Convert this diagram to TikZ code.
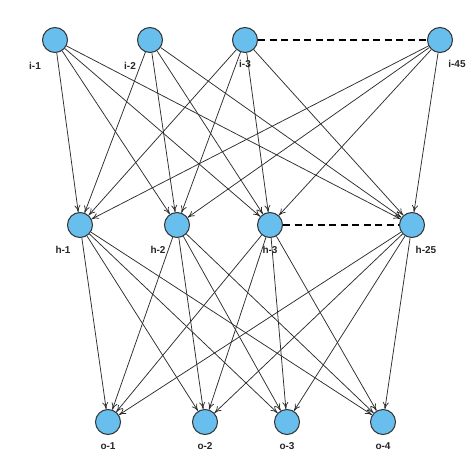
\documentclass[tikz,border=0pt]{standalone}
\usepackage{fontspec}
\setmainfont{Liberation Sans}
\usetikzlibrary{arrows.meta}
\definecolor{nodeblue}{RGB}{104,190,236}
\definecolor{edgegray}{RGB}{45,45,45}
\tikzset{
  neuron/.style={circle,draw=black!80,line width=1pt,fill=nodeblue,minimum size=25pt,inner sep=0pt},
  lbl/.style={font=\fontsize{10}{11}\selectfont\bfseries,inner sep=0pt,text=black!85},
  conn/.style={draw=edgegray,line width=0.75pt,-{To[length=7pt,width=6pt]}},
  gap/.style={draw=black,line width=2.6pt,dash pattern=on 7pt off 4.5pt}
}
\begin{document}
\begin{tikzpicture}[x=1pt,y=-1pt]
\useasboundingbox (0,0) rectangle (474,468);
% input layer
\node[neuron] (i1) at (55,40) {};
\node[neuron] (i2) at (150,40) {};
\node[neuron] (i3) at (245,40) {};
\node[neuron] (i45) at (440,40) {};
% hidden layer
\node[neuron] (h1) at (80,225) {};
\node[neuron] (h2) at (177,225) {};
\node[neuron] (h3) at (270,225) {};
\node[neuron] (h25) at (412,225) {};
% output layer
\node[neuron] (o1) at (108,422) {};
\node[neuron] (o2) at (205,422) {};
\node[neuron] (o3) at (287,422) {};
\node[neuron] (o4) at (383,422) {};
% labels
\node[lbl] (li1) at (35,66) {i-1};
\node[lbl] (li2) at (130,66) {i-2};
\node[lbl] (li3) at (245,64) {i-3};
\node[lbl] (li45) at (457,64) {i-45};
\node[lbl] (lh1) at (63,250) {h-1};
\node[lbl] (lh2) at (158,250) {h-2};
\node[lbl] (lh3) at (270,250) {h-3};
\node[lbl] (lh25) at (426,250) {h-25};
\node[lbl] (lo1) at (108,446) {o-1};
\node[lbl] (lo2) at (205,446) {o-2};
\node[lbl] (lo3) at (287,446) {o-3};
\node[lbl] (lo4) at (383,446) {o-4};
% connections
\foreach \a in {i1,i2,i3,i45}{
  \foreach \b in {h1,h2,h3,h25}{
    \draw[conn] (\a) -- (\b);
  }
}
\foreach \a in {h1,h2,h3,h25}{
  \foreach \b in {o1,o2,o3,o4}{
    \draw[conn] (\a) -- (\b);
  }
}
\draw[gap] (i3) -- (i45);
\draw[gap] (h3) -- (h25);
\end{tikzpicture}
\end{document}
